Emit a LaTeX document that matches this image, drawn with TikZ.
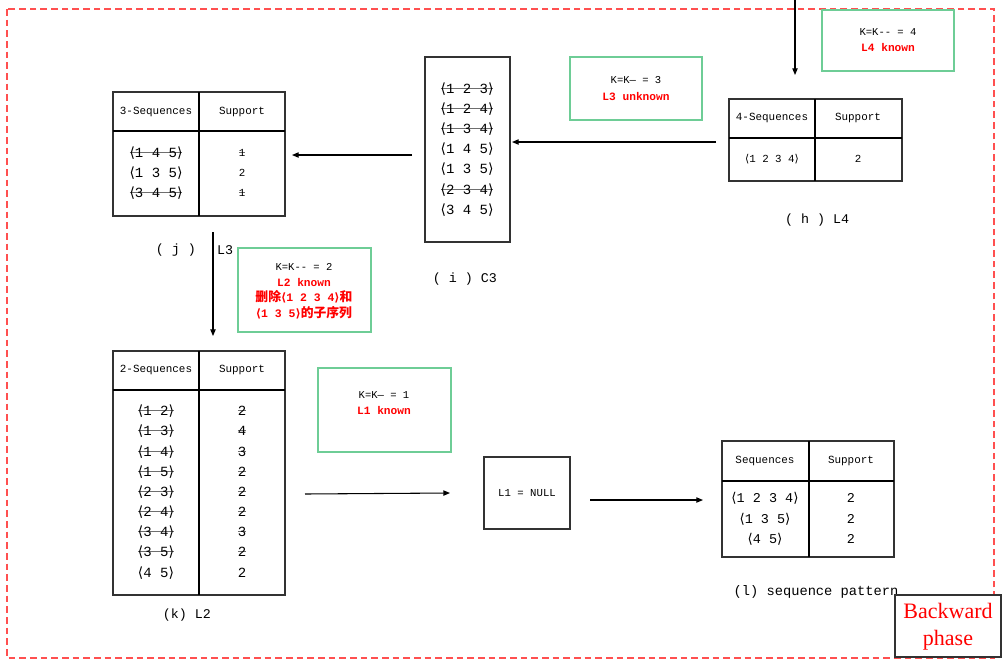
\documentclass[tikz,border=0pt]{standalone}
\usepackage{fontspec}
\setmainfont{Liberation Mono}
\newfontfamily\cjk{Noto Sans CJK SC}
\newfontfamily\symf{DejaVu Sans}
\newfontfamily\serf{Liberation Serif}
\usetikzlibrary{arrows.meta,fit}
\newcommand\la{{\symf ⟨}}
\newcommand\ra{{\symf ⟩}}
\definecolor{strk}{RGB}{110,110,110}
\newcommand\st[1]{\setbox0\hbox{#1}\rlap{\textcolor{strk}{\raisebox{0.3em}{\rule{\wd0}{0.8pt}}}}\box0}
\definecolor{gbox}{RGB}{110,205,150}
\definecolor{dred}{RGB}{255,80,80}
\definecolor{tcol}{RGB}{50,50,50}
\tikzset{
  tbl/.style={draw=tcol, line width=1.1pt, inner sep=0pt},
  tline/.style={draw=black, line width=0.9pt},
  gnote/.style={draw=gbox, line width=1pt, inner sep=0pt},
  arr/.style={draw=black, line width=0.8pt, -{Triangle[length=5pt,width=4pt]}},
  hdr/.style={font=\fontsize{8.2}{10}\selectfont, inner sep=0pt},
  row/.style={font=\fontsize{10.5}{12}\selectfont, inner sep=0pt},
  srow/.style={font=\fontsize{8.1}{10}\selectfont, inner sep=0pt},
  captxt/.style={font=\fontsize{10}{12}\selectfont, inner sep=0pt},
  ntxt/.style={font=\fontsize{7.9}{10}\selectfont, inner sep=0pt},
  rtxt/.style={font=\fontsize{8.4}{10}\selectfont\bfseries, text=red, inner sep=0pt},
}
\begin{document}
\begin{tikzpicture}[x=0.75pt,y=-0.75pt]
\useasboundingbox (0,0) rectangle (1007,665);
% outer dashed frame
\draw[dred, line width=0.9pt, dash pattern=on 5pt off 3pt] (7,9) rectangle (994,658);

% ---------- L4 ----------
\node[gnote, fit={(822,10)(954,71)}] (g4) {};
\node[ntxt] (g4a) at (888,32) {K=K-{}- = 4};
\node[rtxt] (g4b) at (888,47) {L4 known};
\node[tbl, fit={(729,99)(902,181)}] (L4) {};
\draw[tline] (815,99) -- (815,181);
\draw[tline] (729,138) -- (902,138);
\node[hdr] (L4h1) at (772,118) {4-Sequences};
\node[hdr] (L4h2) at (858,118) {Support};
\node[srow] (L4r1) at (772,159) {\la1 2 3 4\ra};
\node[srow] (L4s1) at (858,159) {2};
\node[captxt] (capH) at (817,220) {( h ) L4};
\coordinate (topA) at (795,0);
\coordinate (topB) at (795,75);
\draw[arr] (topA) -- (topB);

% ---------- C3 ----------
\node[gnote, fit={(570,57)(702,120)}] (g3) {};
\node[ntxt] (g3a) at (636,80) {K=K— = 3};
\node[rtxt] (g3b) at (636,96) {L3 unknown};
\node[tbl, fit={(425,57)(510,242)}] (C3) {};
\node[row] (c1) at (467,89) {\st{\la1 2 3\ra}};
\node[row] (c2) at (467,109) {\st{\la1 2 4\ra}};
\node[row] (c3) at (467,129) {\st{\la1 3 4\ra}};
\node[row] (c4) at (467,149) {\la1 4 5\ra};
\node[row] (c5) at (467,169) {\la1 3 5\ra};
\node[row] (c6) at (467,190) {\st{\la2 3 4\ra}};
\node[row] (c7) at (467,210) {\la3 4 5\ra};
\node[captxt] (capI) at (465,279) {( i ) C3};
\coordinate (a1s) at (716,142);
\coordinate (a1e) at (512,142);
\draw[arr] (a1s) -- (a1e);

% ---------- L3 ----------
\node[tbl, fit={(113,92)(285,216)}] (L3) {};
\draw[tline] (199,92) -- (199,216);
\draw[tline] (113,131) -- (285,131);
\node[hdr] (L3h1) at (156,112) {3-Sequences};
\node[hdr] (L3h2) at (242,112) {Support};
\node[row] (l3r1) at (156,153) {\st{\la1 4 5\ra}};
\node[row] (l3r2) at (156,173) {\la1 3 5\ra};
\node[row] (l3r3) at (156,193) {\st{\la3 4 5\ra}};
\node[srow] (l3s1) at (242,153) {\st{1}};
\node[srow] (l3s2) at (242,173) {2};
\node[srow] (l3s3) at (242,193) {\st{1}};
\coordinate (a2s) at (412,155);
\coordinate (a2e) at (292,155);
\draw[arr] (a2s) -- (a2e);
\node[captxt] (capJ) at (176,250) {( j )};
\node[captxt] (capJ2) at (225,250) {L3};
\coordinate (a3s) at (213,232);
\coordinate (a3e) at (213,336);
\draw[arr] (a3s) -- (a3e);

% ---------- L2 note ----------
\node[gnote, fit={(238,248)(371,332)}] (g2) {};
\node[ntxt] (g2a) at (304,267) {K=K-{}- = 2};
\node[rtxt] (g2b) at (304,282) {L2 known};
\node[rtxt, font=\fontsize{8.6}{10}\selectfont\bfseries] (g2c) at (304,297) {{\cjk\fontsize{9.6}{10}\selectfont 删除}\la1 2 3 4\ra{\cjk\fontsize{9.6}{10}\selectfont 和}};
\node[rtxt, font=\fontsize{8.6}{10}\selectfont\bfseries] (g2d) at (304,313) {\la1 3 5\ra{\cjk\fontsize{9.6}{10}\selectfont 的子序列}};

% ---------- L2 ----------
\node[tbl, fit={(113,351)(285,595)}] (L2) {};
\draw[tline] (199,351) -- (199,595);
\draw[tline] (113,390) -- (285,390);
\node[hdr] (L2h1) at (156,370) {2-Sequences};
\node[hdr] (L2h2) at (242,370) {Support};
\foreach \i/\a/\b/\s/\y in {1/1/2/2/411,2/1/3/4/431,3/1/4/3/452,4/1/5/2/472,5/2/3/2/492,6/2/4/2/512,7/3/4/3/532,8/3/5/2/552}{
  \node[row] (l2r\i) at (156,\y) {\st{\la\a\ \b\ra}};
  \node[row] (l2s\i) at (242,\y) {\st{\s}};
}
\node[row] (l2r9) at (156,573) {\la4 5\ra};
\node[row] (l2s9) at (242,573) {2};
\node[captxt] (capK) at (187,615) {(k) L2};

% ---------- L1 ----------
\node[gnote, fit={(318,368)(451,452)}] (g1) {};
\node[ntxt] (g1a) at (384,395) {K=K— = 1};
\node[rtxt] (g1b) at (384,410) {L1 known};
\coordinate (a4s) at (305,494);
\coordinate (a4e) at (450,493);
\draw[arr] (a4s) -- (a4e);
\node[tbl, fit={(484,457)(570,529)}] (L1) {};
\node[ntxt, font=\fontsize{8}{10}\selectfont] (L1t) at (527,493) {L1 = NULL};
\coordinate (a5s) at (590,500);
\coordinate (a5e) at (703,500);
\draw[arr] (a5s) -- (a5e);

% ---------- result ----------
\node[tbl, fit={(722,441)(894,557)}] (R) {};
\draw[tline] (809,441) -- (809,557);
\draw[tline] (722,481) -- (894,481);
\node[hdr] (Rh1) at (765,461) {Sequences};
\node[hdr] (Rh2) at (851,461) {Support};
\node[row, font=\fontsize{10.1}{12}\selectfont] (Rr1) at (765,498) {\la1 2 3 4\ra};
\node[row, font=\fontsize{10.1}{12}\selectfont] (Rr2) at (765,519) {\la1 3 5\ra};
\node[row, font=\fontsize{10.1}{12}\selectfont] (Rr3) at (765,539) {\la4 5\ra};
\node[row, font=\fontsize{10.1}{12}\selectfont] (Rs1) at (851,498) {2};
\node[row, font=\fontsize{10.1}{12}\selectfont] (Rs2) at (851,519) {2};
\node[row, font=\fontsize{10.1}{12}\selectfont] (Rs3) at (851,539) {2};
\node[captxt, font=\fontsize{10.3}{12}\selectfont] (capL) at (816,592) {(l) sequence pattern};

% ---------- Backward phase ----------
\node[draw=tcol, line width=1.1pt, fill=white, inner sep=0pt, fit={(895,595)(1001,657)}] (BP) {};
\node[inner sep=0pt, text=red, align=center, font=\serf\fontsize{16.5}{20.5}\selectfont] (BPt) at (948,627) {Backward\\phase};
\end{tikzpicture}
\end{document}
